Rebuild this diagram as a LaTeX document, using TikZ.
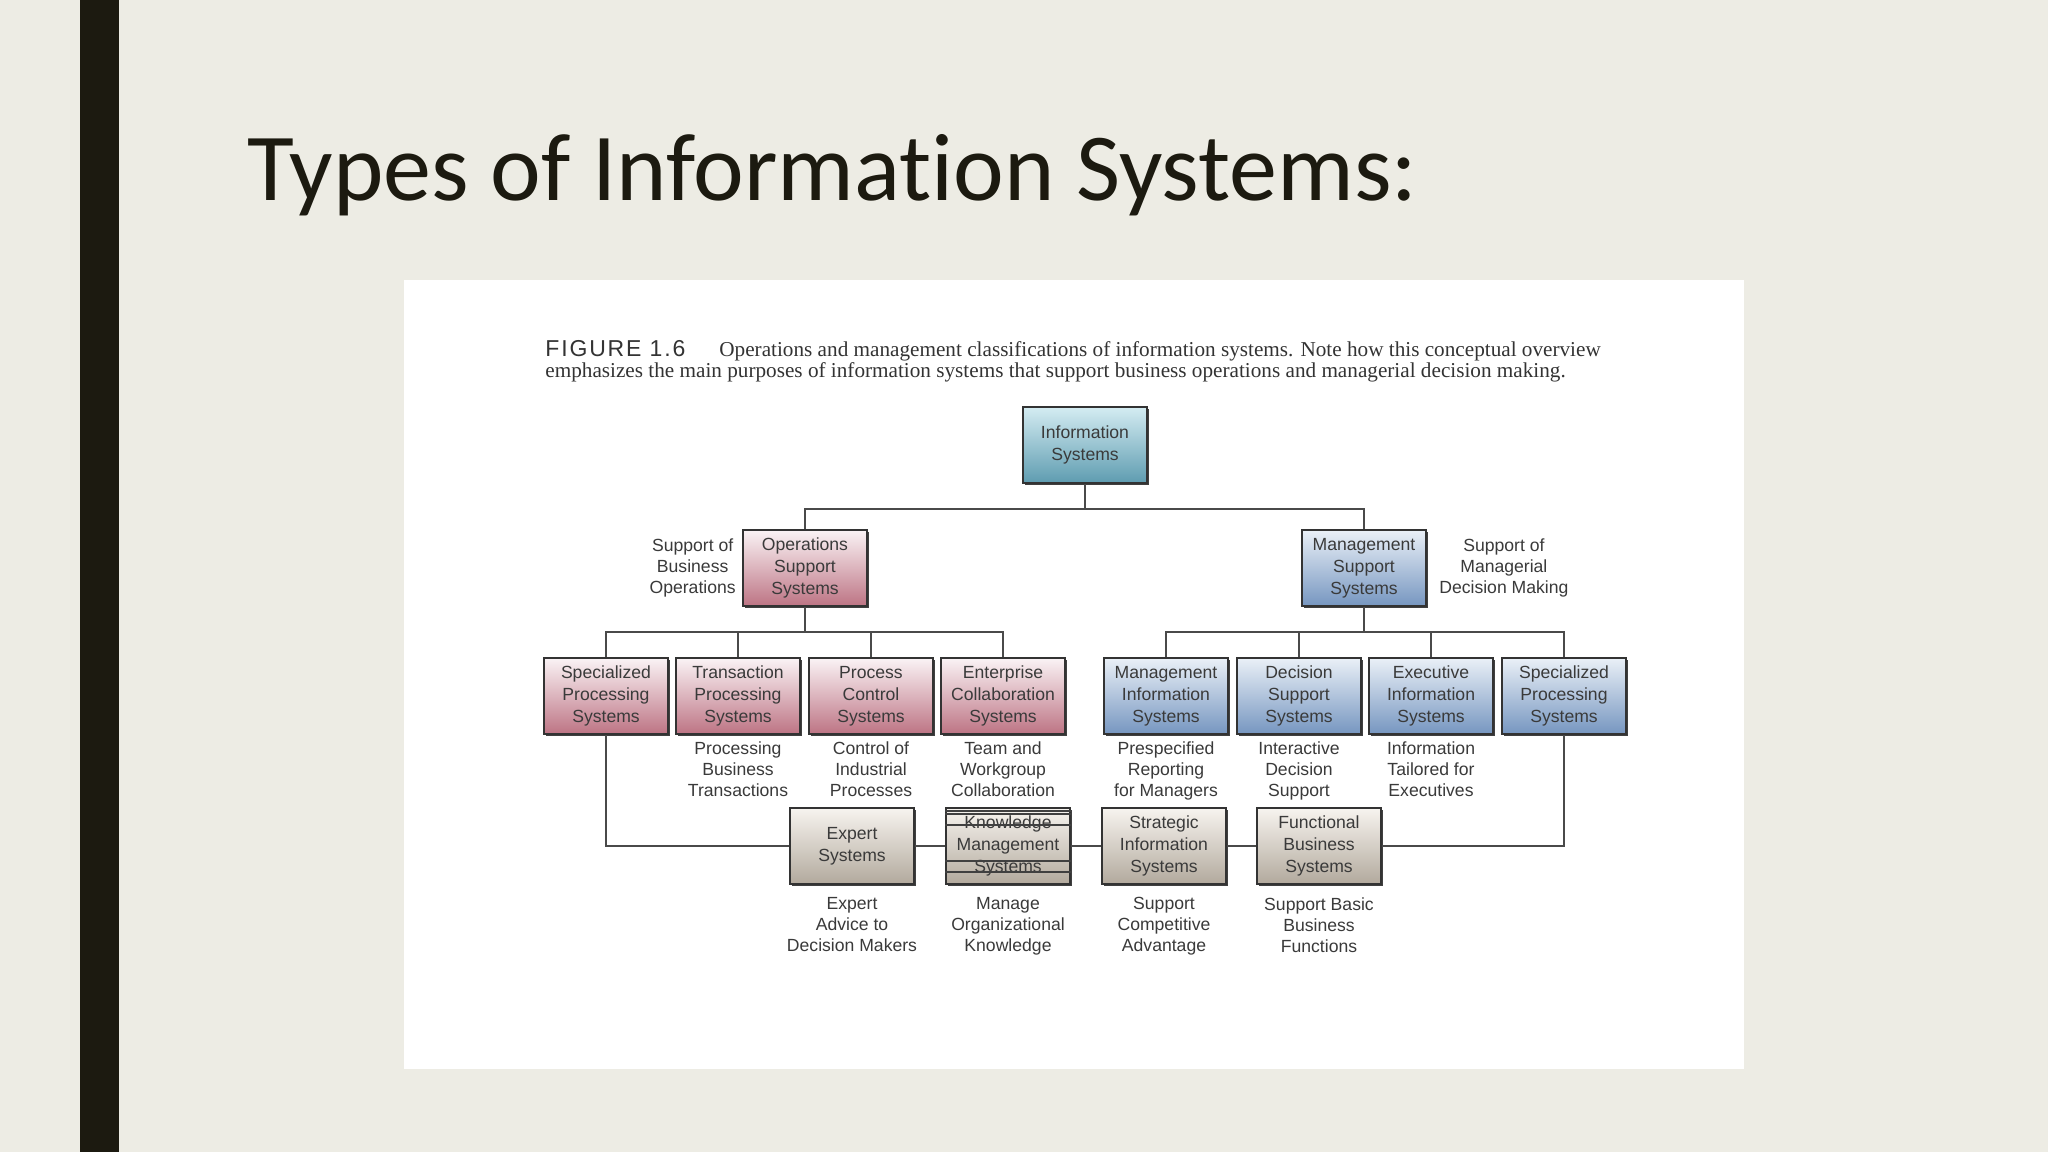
\documentclass[tikz,border=0pt]{standalone}
\usepackage{fontspec}
\setmainfont{Liberation Serif}
\setsansfont{Liberation Sans}
\newfontfamily\titlefont[Ligatures={NoCommon}]{Carlito}
\newfontfamily\figfont[LetterSpace=8]{Liberation Sans}
\usetikzlibrary{positioning,shadows}

\definecolor{slidebg}{HTML}{EDECE4}
\definecolor{barcol}{HTML}{1C1A10}
\definecolor{inktext}{HTML}{3A3A3A}
\definecolor{linecol}{HTML}{4A4A4A}
\definecolor{tealtop}{HTML}{D4ECF2}
\definecolor{tealbot}{HTML}{5E9CB0}
\definecolor{rosetop}{HTML}{FAF3F5}
\definecolor{rosebot}{HTML}{BD7484}
\definecolor{bluetop}{HTML}{EAF0F7}
\definecolor{bluebot}{HTML}{7696C0}
\definecolor{sandtop}{HTML}{F7F4EF}
\definecolor{sandbot}{HTML}{B2A99D}

\begin{document}
\begin{tikzpicture}[x=0.5pt,y=-0.5pt,
  sysbox/.style={draw=black!80,line width=0.9pt,minimum width=62pt,minimum height=38pt,
    inner sep=0pt,align=center,text=inktext,font=\sffamily\fontsize{8.8}{11}\selectfont,
    drop shadow={shadow xshift=1.1pt,shadow yshift=-1.1pt,fill=black!75,opacity=1}},
  tealbox/.style={sysbox,top color=tealtop,bottom color=tealbot},
  rosebox/.style={sysbox,top color=rosetop,bottom color=rosebot},
  bluebox/.style={sysbox,top color=bluetop,bottom color=bluebot},
  sandbox/.style={sysbox,top color=sandtop,bottom color=sandbot},
  note/.style={align=center,inner sep=0pt,text=inktext,font=\sffamily\fontsize{8.8}{10.5}\selectfont},
  link/.style={draw=linecol,line width=0.8pt}]
  % slide
  \fill[slidebg] (0,0) rectangle (2048,1152);
  \useasboundingbox (0,0) rectangle (2048,1152);
  \fill[barcol] (80,0) rectangle (119,1152);
  \node[anchor=base west,inner sep=0pt,text=barcol,font=\titlefont\fontsize{48}{54}\selectfont]
    (title) at (247,200) {Types of Information Systems:};
  \fill[white] (404,280) rectangle (1744,1069);
  % caption
  \node[anchor=base west,inner sep=0pt,text=black!80,font=\figfont\fontsize{11.5}{13}\selectfont]
    (figlabel) at (545,356) {FIGURE 1.6};
  \node[anchor=base west,inner sep=0pt,text=black!80,font=\fontsize{10.6}{12}\selectfont]
    (capa) at (719,356) {Operations and management classifications of information systems. Note how this conceptual overview};
  \node[anchor=base west,inner sep=0pt,text=black!80,font=\fontsize{10.6}{12}\selectfont]
    (capb) at (545,377) {emphasizes the main purposes of information systems that support business operations and managerial decision making.};

  % top levels
  \node[tealbox] (info) at (1085,445) {Information\\Systems};
  \node[rosebox] (ops) at (805,568) {Operations\\Support\\Systems};
  \node[bluebox] (mgmt) at (1364,568) {Management\\Support\\Systems};
  \node[note,left=3pt of ops] (opsnote) {Support of\\Business\\Operations};
  \node[note,right=6pt of mgmt] (mgmtnote) {Support of\\Managerial\\Decision Making};

  % second row
  \foreach \n/\cx/\st/\txt in {spo/606/rosebox/{Specialized\\Processing\\Systems},
      tps/738/rosebox/{Transaction\\Processing\\Systems},
      pcs/871/rosebox/{Process\\Control\\Systems},
      ecs/1003/rosebox/{Enterprise\\Collaboration\\Systems},
      mis/1166/bluebox/{Management\\Information\\Systems},
      dss/1299/bluebox/{Decision\\Support\\Systems},
      eis/1431/bluebox/{Executive\\Information\\Systems},
      spm/1564/bluebox/{Specialized\\Processing\\Systems}}
    \node[\st] (\n) at (\cx,696) {\txt};

  % third row
  \foreach \n/\cx/\txt in {es/852/{Expert\\Systems},
      kms/1008/{Knowledge\\Management\\Systems},
      sis/1164/{Strategic\\Information\\Systems},
      fbs/1319/{Functional\\Business\\Systems}}
    \node[sandbox] (\n) at (\cx,846) {\txt};
  \foreach \yy in {811,814,825,861,872}
    \draw[black!75,line width=0.6pt] (kms.west |- 0,\yy) -- (kms.east |- 0,\yy);

  % purposes
  \foreach \n/\txt in {tps/{Processing\\Business\\Transactions},
      pcs/{Control of\\Industrial\\Processes},
      ecs/{Team and\\Workgroup\\Collaboration},
      mis/{Prespecified\\Reporting\\for Managers},
      dss/{Interactive\\Decision\\Support},
      eis/{Information\\Tailored for\\Executives}}
    \node[note,below=3pt of \n] (\n-d) {\txt};
  \foreach \n/\txt in {es/{Expert\\Advice to\\Decision Makers},
      kms/{Manage\\Organizational\\Knowledge},
      sis/{Support\\Competitive\\Advantage},
      fbs/{Support Basic\\Business\\Functions}}
    \node[note,below=6pt of \n] (\n-d) {\txt};

  % connectors
  \coordinate (j1) at (1085,509);
  \coordinate (j2) at (805,632);
  \coordinate (j3) at (1364,632);
  \draw[link] (info) -- (j1);
  \draw[link] (ops.north) |- (j1) -| (mgmt.north);
  \draw[link] (ops) -- (j2);
  \draw[link] (spo.north) |- (j2) -| (ecs.north);
  \draw[link] (mgmt) -- (j3);
  \draw[link] (mis.north) |- (j3) -| (spm.north);
  \foreach \n in {tps,pcs}
    \draw[link] (\n.north) -- (\n.north |- j2);
  \foreach \n in {dss,eis}
    \draw[link] (\n.north) -- (\n.north |- j3);
  \draw[link] (spo.south) |- (es.west);
  \draw[link] (es) -- (kms);
  \draw[link] (kms) -- (sis);
  \draw[link] (sis) -- (fbs);
  \draw[link] (fbs.east) -| (spm.south);
\end{tikzpicture}
\end{document}
